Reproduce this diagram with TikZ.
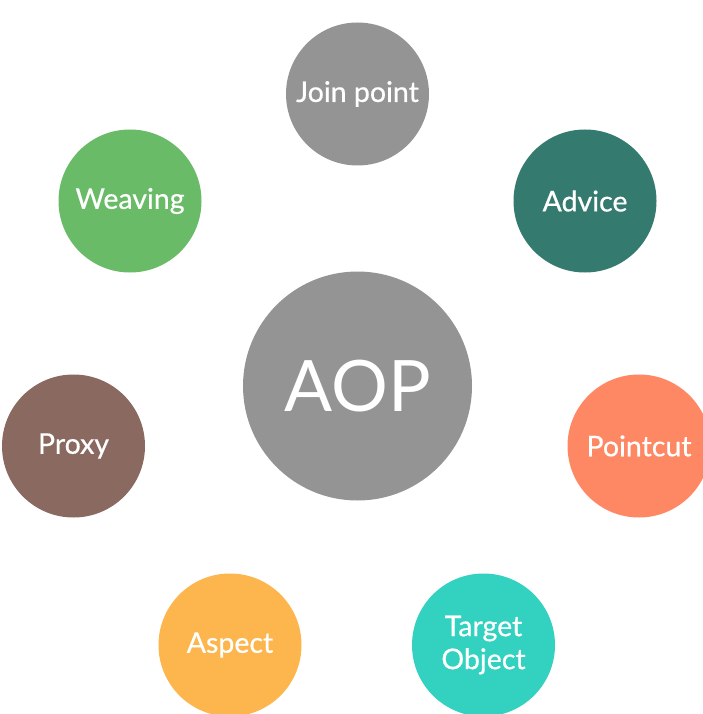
\documentclass[tikz,border=0pt]{standalone}
\usepackage{fontspec}
\setmainfont{Lato}
\newfontfamily\labfont[FakeBold=0.6]{Lato}
\definecolor{cgray}{HTML}{949494}
\definecolor{cadvice}{HTML}{347A6E}
\definecolor{cweave}{HTML}{69BB67}
\definecolor{cproxy}{HTML}{8A6A60}
\definecolor{cpoint}{HTML}{FD8863}
\definecolor{caspect}{HTML}{FDB54D}
\definecolor{ctarget}{HTML}{33D1C0}
\begin{document}
\begin{tikzpicture}[x=1pt,y=-1pt,
  bubble/.style={circle,minimum size=143pt,inner sep=0pt,text=white,font=\labfont\fontsize{28.5}{33}\selectfont,align=center},
  hub/.style={circle,minimum size=229pt,inner sep=0pt,text=white,font=\fontsize{71}{71}\selectfont,fill=cgray}]
\useasboundingbox (0,0) rectangle (703,714);
\node[hub] (aop) at (357.5,386) {AOP};
\node[bubble,fill=cgray] (join) at (357.5,94) {Join point};
\node[bubble,fill=cadvice] (advice) at (585,201) {Advice};
\node[bubble,fill=cweave] (weave) at (130,201) {Weaving};
\node[bubble,fill=cproxy] (proxy) at (73.5,446) {Proxy};
\node[bubble,fill=cpoint] (pointcut) at (639,446) {Pointcut};
\node[bubble,fill=caspect] (aspect) at (230,645) {Aspect};
\node[bubble,fill=ctarget] (target) at (483.5,645) {Target\\Object};
\end{tikzpicture}
\end{document}
